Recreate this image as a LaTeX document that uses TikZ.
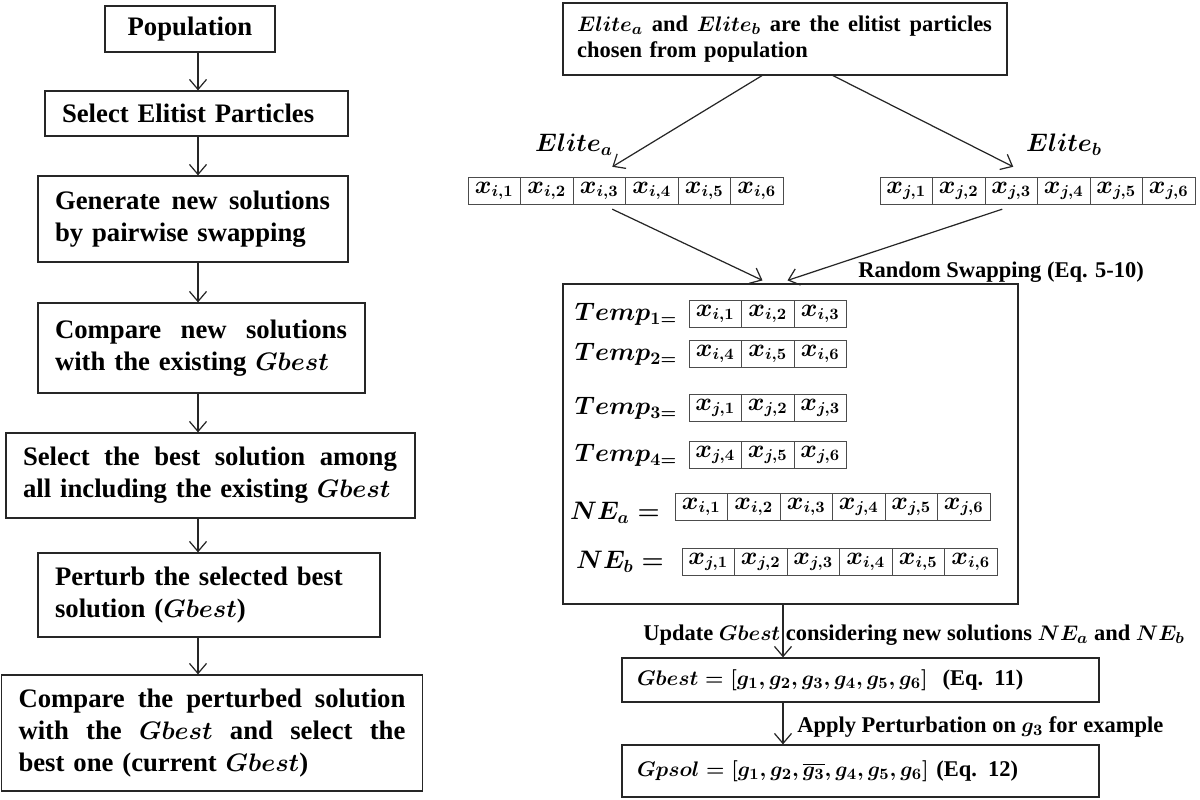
\documentclass[tikz,border=0pt]{standalone}
\usepackage{fontspec}
\setmainfont{Liberation Serif}
\usepackage{amsmath}
\usetikzlibrary{arrows.meta,positioning,calc}

% stretch one line of a box to the given width
\newcommand{\spreadline}[2]{\makebox[#1][s]{\spaceskip=0pt\xspaceskip=0pt #2}}

\tikzset{
    % Base style for all boxes
    box base/.style={
        draw=black!85,
        line width=0.7pt,
        inner ysep=0pt,
    },
    % Steps of the flow chart on the left
    stepbox/.style={
        box base,
        font=\fontsize{15.2}{18.2}\selectfont\bfseries\boldmath,
        align=left,
        inner xsep=0.34cm,
    },
    % Boxes of the worked example on the right
    infobox/.style={
        box base,
        font=\fontsize{12.8}{14.8}\selectfont\bfseries\boldmath,
        align=left,
        inner xsep=0.3cm,
    },
    % One gene of a particle
    cell/.style={
        draw=black!70,
        line width=0.5pt,
        minimum width=1.05cm,
        minimum height=0.55cm,
        inner sep=0pt,
        font=\fontsize{13.5}{13.5}\selectfont\boldmath,
    },
    % Names of the rows
    tag/.style={
        font=\fontsize{14}{14}\selectfont\bfseries\boldmath,
        inner sep=0pt,
    },
    % Free text next to the arrows
    note/.style={
        font=\fontsize{12.8}{14}\selectfont\bfseries\boldmath,
        inner sep=0pt,
        anchor=west,
    },
    % Thin arrow with open head
    arrow/.style={
        -{Straight Barb[length=2mm, width=3.4mm]},
        line width=0.7pt,
        draw=black!85,
    },
}

\begin{document}
\begin{tikzpicture}[x=0.02cm, y=-0.02cm]
    \useasboundingbox (0,0) rectangle (1200,800);

    % left: flow chart
    \node (pop) [stepbox, minimum width=3.4cm, minimum height=0.92cm, align=center] at (190,29) {Population};
    \node (sel) [stepbox, text width=5.38cm, minimum height=0.9cm] at (196.5,113.5) {Select Elitist Particles};
    \node (gen) [stepbox, text width=5.52cm, minimum height=1.72cm] at (193,219)
        {\spreadline{5.5cm}{Generate new solutions}\\by pairwise swapping};
    \node (cmp) [stepbox, text width=5.86cm, minimum height=1.8cm] at (201.5,348)
        {\spreadline{5.84cm}{Compare new solutions}\\with the existing $Gbest$};
    \node (best) [stepbox, text width=7.5cm, minimum height=1.7cm] at (210.5,475.5)
        {\spreadline{7.48cm}{Select the best solution among}\\all including the existing $Gbest$};
    \node (pert) [stepbox, text width=6.16cm, minimum height=1.68cm] at (209,595)
        {Perturb the selected best\\solution ($Gbest$)};
    \node (cmpp) [stepbox, text width=7.74cm, minimum height=2.32cm] at (212,733)
        {\spreadline{7.74cm}{Compare the perturbed solution}\\\spreadline{7.74cm}{with the $Gbest$ and select the}\\best one (current $Gbest$)};

    \coordinate (lspine) at (198,0);
    \draw [arrow] (lspine |- pop.south) -- (lspine |- sel.north);
    \draw [arrow] (lspine |- sel.south) -- (lspine |- gen.north);
    \draw [arrow] (lspine |- gen.south) -- (lspine |- cmp.north);
    \draw [arrow] (lspine |- cmp.south) -- (lspine |- best.north);
    \draw [arrow] (lspine |- best.south) -- (lspine |- pert.north);
    \draw [arrow] (lspine |- pert.south) -- (lspine |- cmpp.north);

    % right: example
    \node (elite) [infobox, text width=8.32cm, inner xsep=0.28cm, minimum height=1.44cm] at (785,39)
        {\spreadline{8.3cm}{$Elite_a$ and $Elite_b$ are the elitist particles}\\chosen from population};

    \node (la) [tag] at (574,145) {$Elite_a$};
    \node (lb) [tag] at (1064,145) {$Elite_b$};
    \foreach \k in {1,...,6} {
        \node (ea\k) [cell] at ({468+52.5*(\k-0.5)},191) {$x_{i,\k}$};
        \node (eb\k) [cell] at ({880+52.5*(\k-0.5)},191) {$x_{j,\k}$};
    }
    \draw [arrow] ($(elite.south)+(-23,0)$) -- ($(ea3.north)+(13,-10)$);
    \draw [arrow] ($(elite.south)+(48,0)$) -- ($(eb3.north)+(2,-10)$);

    \node (swap) [box base, minimum width=9.1cm, minimum height=6.4cm] at (790.5,444) {};
    \node (rs) [note] at (858,272) {Random Swapping (Eq. 5-10)};
    \draw [arrow] ($(ea3.south)+(13,4)$) -- ($(swap.north)+(-28,-3)$);
    \draw [arrow] ($(eb3.south)+(-9,4)$) -- ($(swap.north)+(-3,-3)$);

    \foreach \t/\y/\s/\o in {1/314/i/0, 2/354/i/3, 3/408/j/0, 4/455/j/3} {
        \node (tl\t) [tag] at (626,\y) {$Temp_{\t=}$};
        \foreach \k [evaluate=\k as \n using int(\k+\o)] in {1,2,3}
            \node (t\t c\k) [cell] at ({689+52.5*(\k-0.5)},\y) {$x_{\s,\n}$};
    }
    \node (nla) [tag] at (615,513) {$NE_a =$};
    \foreach \s/\n [count=\k] in {i/1,i/2,i/3,j/4,j/5,j/6}
        \node (na\k) [cell] at ({675+52.5*(\k-0.5)},507) {$x_{\s,\n}$};
    \node (nlb) [tag] at (620,562) {$NE_b =$};
    \foreach \s/\n [count=\k] in {j/1,j/2,j/3,i/4,i/5,i/6}
        \node (nb\k) [cell] at ({682+52.5*(\k-0.5)},562) {$x_{\s,\n}$};

    \node (gbest) [infobox, text width=8.94cm, minimum height=0.88cm] at (860.5,680)
        {$Gbest = [g_1, g_2, g_3, g_4, g_5, g_6]$\ \ (Eq. 11)};
    \node (gpsol) [infobox, text width=8.94cm, minimum height=1.04cm] at (860.5,771)
        {$Gpsol = [g_1, g_2, \overline{g_3}, g_4, g_5, g_6]$ (Eq. 12)};

    \coordinate (rspine) at (783,0);
    \draw [arrow] (rspine |- swap.south) -- (rspine |- gbest.north);
    \draw [arrow] (rspine |- gbest.south) -- (rspine |- gpsol.north);
    \node (upd) [note] at (643,635) {Update $Gbest$ considering new solutions $NE_a$ and $NE_b$};
    \node (app) [note] at (797,727) {Apply Perturbation on $g_3$ for example};
\end{tikzpicture}
\end{document}
